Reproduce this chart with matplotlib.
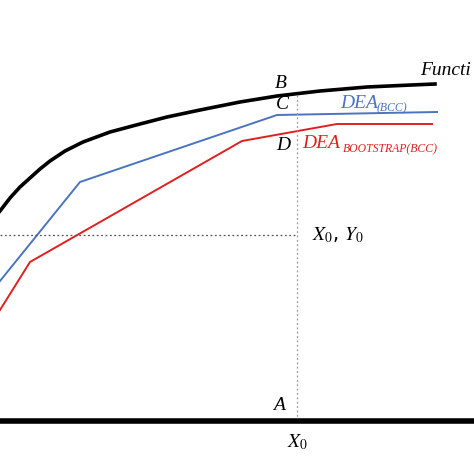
import matplotlib
matplotlib.use("Agg")
import matplotlib.pyplot as plt
plt.rcParams['mathtext.fontset'] = 'stix'

func_x = [0, 10, 20, 30, 40, 50, 65, 83, 110, 140, 167, 200, 240, 277, 320, 367, 400, 435]
func_y = [211, 198, 187, 178, 169, 161, 151, 142, 132, 124, 117, 110, 102, 96, 91, 87, 85.5, 84]
bcc_x = [0, 80, 277, 437]
bcc_y = [281, 182, 115, 112]
boot_x = [0, 30, 242, 337, 432]
boot_y = [310, 262, 141, 124, 124]

fig = plt.figure(figsize=(4.74, 4.74), dpi=100)
ax = fig.add_axes([0, 0, 1, 1])
ax.set_xlim(0, 474); ax.set_ylim(474, 0); ax.axis('off')
ax.plot(func_x, func_y, color='black', lw=2.6, solid_joinstyle='round')
ax.plot(bcc_x, bcc_y, color='#4a74c0', lw=1.4)
ax.plot(boot_x, boot_y, color='#e02020', lw=1.4)
ax.plot([0, 297], [235, 235], color='#555555', lw=0.9, ls=(0, (1.5, 2)))
ax.plot([297, 297], [95, 420], color='#999999', lw=0.9, ls=(0, (1.5, 2)))
ax.plot([0, 474], [421, 421], color='black', lw=4)
f = dict(family='Liberation Serif', style='italic', fontsize=14)
s = dict(family='Liberation Serif', style='italic', fontsize=8.5, va='center')
ax.text(420, 70, 'Functi', **f, va='center')
ax.text(275, 83, 'B', **f, va='center')
ax.text(276, 104, 'C', **f, va='center')
ax.text(276, 145, 'D', **f, va='center')
ax.text(340, 103, 'DEA', color='#4a74c0', **f, va='center')
ax.text(377, 108, '(BCC)', color='#4a74c0', **s)
ax.text(302, 143, 'DEA', color='#e02020', **f, va='center')
ax.text(343, 149, 'BOOTSTRAP(BCC)', color='#e02020', **s)
ax.text(312, 235, r'$X_0$, $Y_0$', fontsize=14, va='center')
ax.text(273, 405, 'A', **f, va='center')
ax.text(287, 442, r'$X_0$', fontsize=14, va='center')
fig.savefig('out.png', dpi=100)
